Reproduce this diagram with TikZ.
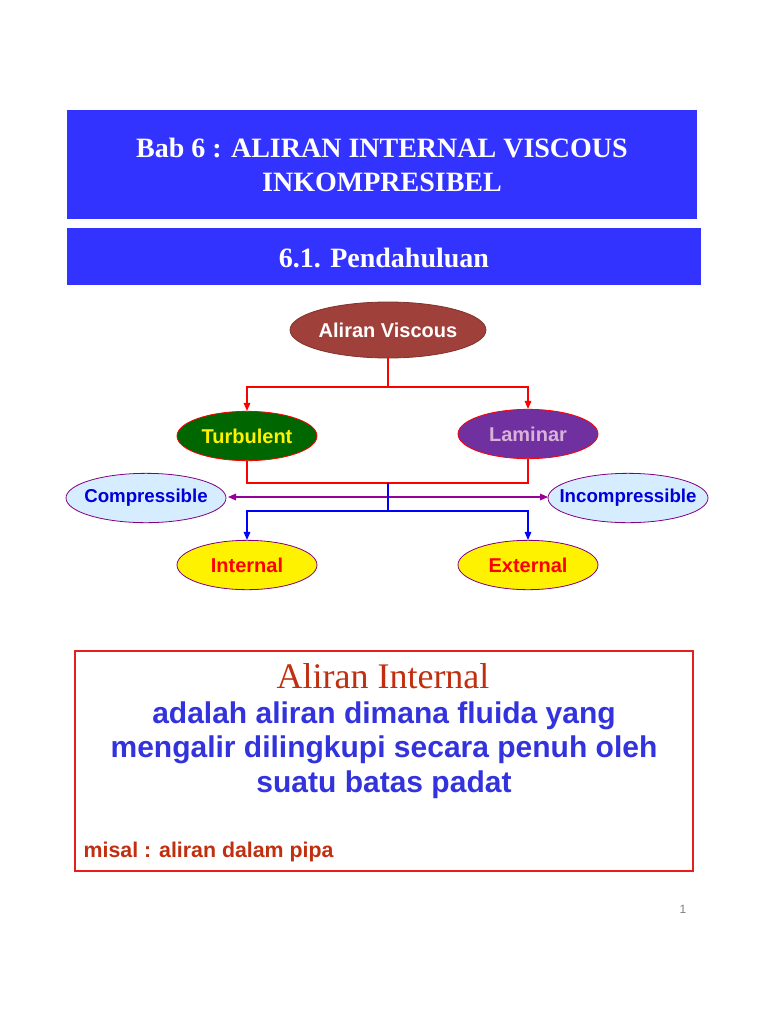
\documentclass[tikz,border=0pt]{standalone}
\usepackage{fontspec}
\setmainfont{Liberation Serif}
\setsansfont{Liberation Sans}
\usetikzlibrary{shapes.geometric,arrows.meta}
\definecolor{titleblue}{RGB}{51,51,255}
\definecolor{viscred}{RGB}{160,64,58}
\definecolor{turbgreen}{RGB}{0,102,0}
\definecolor{lampurple}{RGB}{112,48,160}
\definecolor{lightblue}{RGB}{214,236,255}
\definecolor{textblue}{RGB}{51,51,221}
\definecolor{headred}{RGB}{192,48,16}
\definecolor{boxred}{RGB}{230,30,30}
\tikzset{
  oval/.style={ellipse, draw=red, line width=0.6pt, minimum width=105pt, minimum height=37pt, inner sep=0pt, font=\sffamily\bfseries\fontsize{15}{17}\selectfont},
  lightoval/.style={oval, draw=violet, fill=lightblue, text=blue!85!black, minimum width=120pt, inner xsep=-14pt, font=\sffamily\bfseries\fontsize{14}{16}\selectfont},
  redline/.style={red, line width=0.8pt},
  blueline/.style={blue, line width=0.8pt},
  tip/.style={-{Triangle[length=6pt,width=5pt]}},
}
\begin{document}
\begin{tikzpicture}[x=0.75pt,y=-0.75pt]
\useasboundingbox (0,0) rectangle (768,1024);
\fill[white] (0,0) rectangle (768,1024);
\fill[titleblue] (67,110) rectangle (697,219);
\node[text=white, font=\bfseries\fontsize{21}{26}\selectfont, align=center] (t1) at (382,165) {Bab 6 : ALIRAN INTERNAL VISCOUS\\INKOMPRESIBEL};
\fill[titleblue] (67,228) rectangle (701,285);
\node[text=white, font=\bfseries\fontsize{21}{24}\selectfont] (t2) at (384,258) {6.1. Pendahuluan};

\node[oval, fill=viscred, text=white, draw=viscred!80!black, minimum width=147pt, minimum height=42pt] (av) at (388,330) {Aliran Viscous};
\node[oval, fill=turbgreen, text=yellow] (tu) at (247,436) {Turbulent};
\node[oval, fill=lampurple, text=violet!30] (la) at (528,434) {Laminar};
\node[lightoval] (co) at (146,498) {Compressible};
\node[lightoval] (in) at (628,498) {Incompressible};
\node[oval, fill=yellow, text=red, draw=violet] (it) at (247,565) {Internal};
\node[oval, fill=yellow, text=red, draw=violet] (ex) at (528,565) {External};

\coordinate (r1) at (388,387);
\coordinate (jb) at (388,483);
\coordinate (b1) at (388,511);
\coordinate (ml) at (228,497);
\coordinate (mr) at (548,497);
\draw[redline] (av.south) -- (r1);
\draw[redline, tip] (r1) -| (tu.north);
\draw[redline, tip] (r1) -| (la.north);
\draw[redline] (tu.south) |- (jb) -| (la.south);
\draw[{Triangle[length=6pt,width=5pt]}-{Triangle[length=6pt,width=5pt]}, violet!80!magenta, line width=0.8pt] (ml) -- (mr);
\draw[blueline] (jb) -- (b1);
\draw[blueline, tip] (b1) -| (it.north);
\draw[blueline, tip] (b1) -| (ex.north);

\draw[draw=boxred, line width=1pt] (75,651) rectangle (693,871);
\node[text=headred, font=\fontsize{27}{32}\selectfont] (h) at (383,676) {Aliran Internal};
\node[text=textblue, font=\sffamily\bfseries\fontsize{22.5}{26}\selectfont, align=center] (d) at (384,750) {adalah aliran dimana fluida yang\\mengalir dilingkupi secara penuh oleh\\suatu batas padat};
\node[text=headred, font=\sffamily\bfseries\fontsize{16}{18}\selectfont, anchor=west] (m) at (79,852) {misal : aliran dalam pipa};
\node[text=gray, font=\sffamily\fontsize{9}{10}\selectfont] (p) at (683,909) {1};
\end{tikzpicture}
\end{document}
